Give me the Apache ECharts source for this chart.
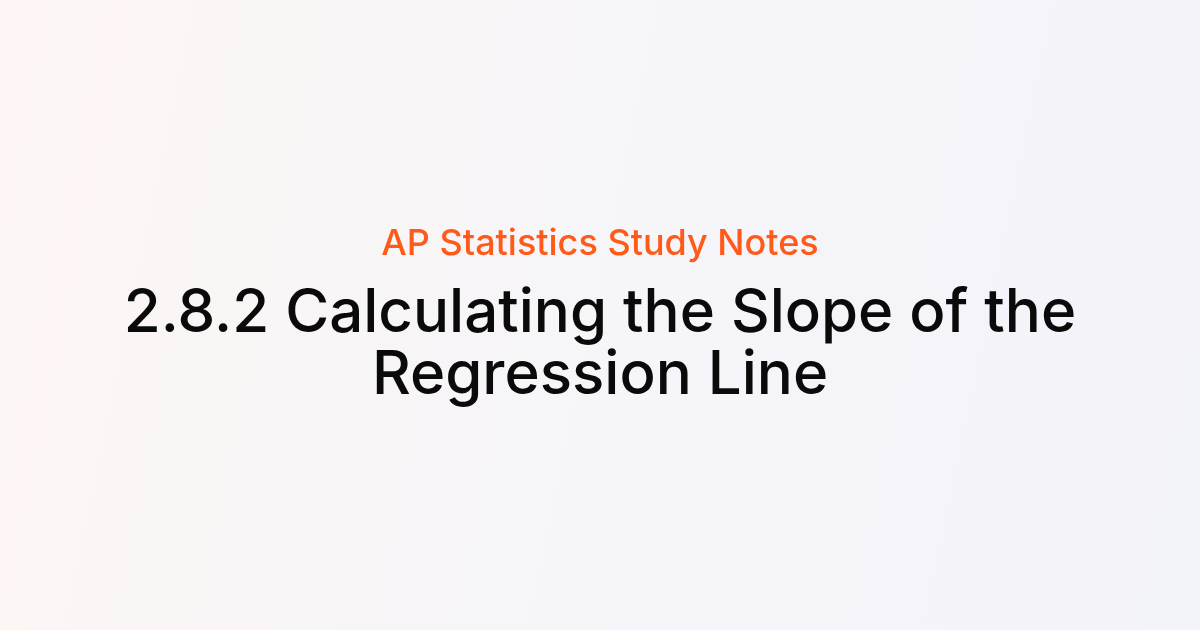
<!DOCTYPE html>
<html>
<head>
<meta charset="utf-8">
<script src="https://cdn.jsdelivr.net/npm/echarts@6/dist/echarts.min.js"></script>
<style>
html,body{margin:0;padding:0;width:1200px;height:630px;overflow:hidden;}
#c{width:1200px;height:630px;}
</style>
</head>
<body>
<div id="c"></div>
<script>
const subtitleText = "AP Statistics Study Notes";
const titleLines = ["2.8.2 Calculating the Slope of the", "Regression Line"];

const chart = echarts.init(document.getElementById('c'), null, {renderer: 'canvas'});
const fontFamily = 'Inter, "Noto Sans", sans-serif';
const graphics = [
  {
    type: 'rect', left: 0, top: 0, z: -1,
    shape: {width: 1200, height: 630},
    style: {
      fill: new echarts.graphic.LinearGradient(0, 0.3, 1, 0.7, [
        {offset: 0, color: '#fdf6f4'},
        {offset: 0.5, color: '#f6f5f8'},
        {offset: 1, color: '#f3f3fa'}
      ])
    }
  },
  {
    type: 'text', x: 600, y: 226,
    style: {
      text: subtitleText, fill: '#ff5a1a',
      font: '500 36px ' + fontFamily,
      textAlign: 'center', textVerticalAlign: 'top'
    }
  }
];
titleLines.forEach((t, i) => {
  graphics.push({
    type: 'text', x: 600, y: 284 + i * 62,
    style: {
      text: t, fill: '#0a0a0a',
      font: '500 60px ' + fontFamily,
      textAlign: 'center', textVerticalAlign: 'top'
    }
  });
});
chart.setOption({
  backgroundColor: '#f6f5f8',
  graphic: graphics
});
</script>
</body>
</html>
